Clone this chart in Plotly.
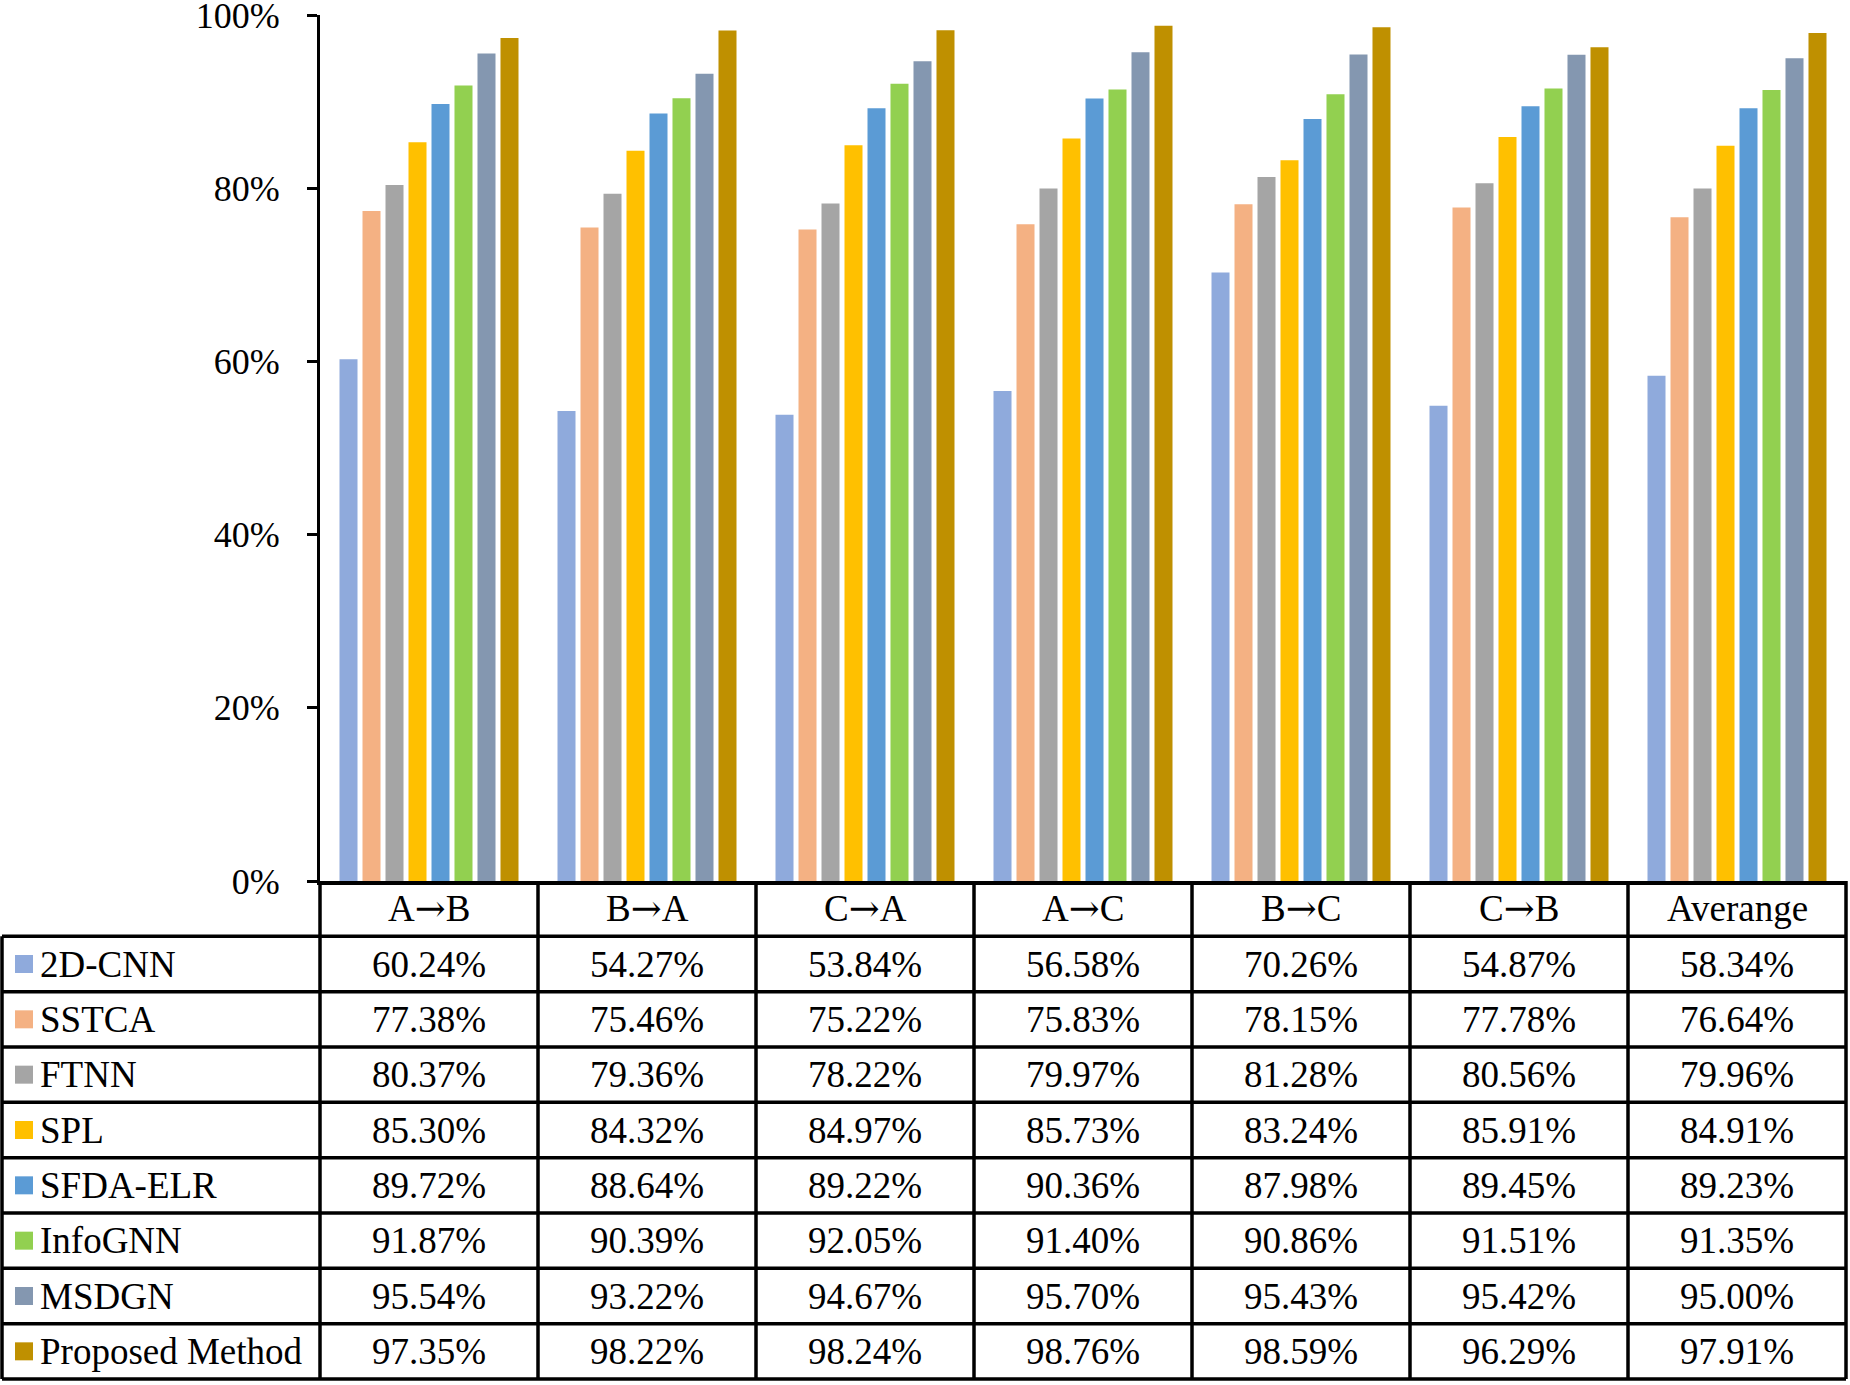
import plotly.graph_objects as go

# datos
categories = ["A→B", "B→A", "C→A", "A→C", "B→C", "C→B", "Averange"]
methods = ["2D-CNN", "SSTCA", "FTNN", "SPL", "SFDA-ELR", "InfoGNN", "MSDGN", "Proposed Method"]

cnn_2d = [60.24, 54.27, 53.84, 56.58, 70.26, 54.87, 58.34]
sstca = [77.38, 75.46, 75.22, 75.83, 78.15, 77.78, 76.64]
ftnn = [80.37, 79.36, 78.22, 79.97, 81.28, 80.56, 79.96]
spl = [85.30, 84.32, 84.97, 85.73, 83.24, 85.91, 84.91]
sfda_elr = [89.72, 88.64, 89.22, 90.36, 87.98, 89.45, 89.23]
infognn = [91.87, 90.39, 92.05, 91.40, 90.86, 91.51, 91.35]
msdgn = [95.54, 93.22, 94.67, 95.70, 95.43, 95.42, 95.00]
proposed = [97.35, 98.22, 98.24, 98.76, 98.59, 96.29, 97.91]

series = [cnn_2d, sstca, ftnn, spl, sfda_elr, infognn, msdgn, proposed]
colors = ["#8FAADC", "#F4B183", "#A5A5A5", "#FFC000",
          "#5B9BD5", "#92D050", "#8497B0", "#BF9000"]

y_ticks = [0, 20, 40, 60, 80, 100]

# geometria en pixeles
W, H = 1850, 1385
PLOT_L, PLOT_R = 320, 1846
PLOT_T, PLOT_B = 15, 881
TABLE_L = 2
ROW_H = (1379 - PLOT_B) / 9
FONT = "Liberation Serif, Times New Roman, serif"
LINE_W = 3.5


def px(x):
    return x / W


def py(y):
    return 1 - y / H


def header_text(cat):
    # la flecha de Liberation Serif sale muy corta, usamos otra fuente solo para ella
    return cat.replace("→", "<span style='font-family:DejaVu Serif'>→</span>")


fig = go.Figure()
for name, vals, col in zip(methods, series, colors):
    fig.add_trace(go.Bar(x=categories, y=vals, name=name,
                         marker=dict(color=col, line=dict(width=0))))

shapes = []
annotations = []
n_rows = len(methods) + 1

# lineas horizontales de la tabla
for k in range(1, n_rows + 1):
    y = PLOT_B + k * ROW_H
    shapes.append(dict(type="line", xref="paper", yref="paper",
                       x0=px(TABLE_L), x1=px(PLOT_R), y0=py(y), y1=py(y),
                       line=dict(color="black", width=LINE_W)))

# lineas verticales de la tabla
n_cat = len(categories)
for k in range(n_cat + 1):
    x = PLOT_L + k * (PLOT_R - PLOT_L) / n_cat
    shapes.append(dict(type="line", xref="paper", yref="paper",
                       x0=px(x), x1=px(x), y0=py(PLOT_B), y1=py(PLOT_B + n_rows * ROW_H),
                       line=dict(color="black", width=LINE_W)))
shapes.append(dict(type="line", xref="paper", yref="paper",
                   x0=px(TABLE_L), x1=px(TABLE_L),
                   y0=py(PLOT_B + ROW_H), y1=py(PLOT_B + n_rows * ROW_H),
                   line=dict(color="black", width=LINE_W)))

# encabezado
for cat in categories:
    annotations.append(dict(x=cat, xref="x", yref="paper", y=py(PLOT_B + ROW_H / 2),
                            text=header_text(cat), showarrow=False,
                            xanchor="center", yanchor="middle",
                            font=dict(size=37, color="black", family=FONT)))

# filas con valores
for r, (name, vals, col) in enumerate(zip(methods, series, colors)):
    yc = PLOT_B + (r + 1.5) * ROW_H
    shapes.append(dict(type="rect", xref="paper", yref="paper",
                       x0=px(15), x1=px(33), y0=py(yc - 9), y1=py(yc + 9),
                       fillcolor=col, line=dict(width=0)))
    annotations.append(dict(x=px(38), xref="paper", yref="paper", y=py(yc),
                            text=name, showarrow=False, xanchor="left", yanchor="middle",
                            font=dict(size=37, color="black", family=FONT)))
    for cat, v in zip(categories, vals):
        annotations.append(dict(x=cat, xref="x", yref="paper", y=py(yc),
                                text="%.2f%%" % v, showarrow=False,
                                xanchor="center", yanchor="middle",
                                font=dict(size=37, color="black", family=FONT)))

fig.update_layout(
    width=W, height=H,
    margin=dict(l=0, r=0, t=0, b=0, autoexpand=False),
    paper_bgcolor="white", plot_bgcolor="white",
    barmode="group", bargap=0.156, bargroupgap=0.217,
    showlegend=False,
    font=dict(family=FONT, color="black"),
    shapes=shapes, annotations=annotations,
    xaxis=dict(domain=[px(PLOT_L), px(PLOT_R)], showticklabels=False, ticks="",
               showgrid=False, zeroline=False, showline=True, automargin=False,
               linecolor="black", linewidth=LINE_W),
    yaxis=dict(domain=[py(PLOT_B), py(PLOT_T)], range=[0, 100],
               tickvals=y_ticks, ticktext=["%d%%" % t for t in y_ticks],
               ticks="outside", ticklen=10, tickwidth=3, tickcolor="black",
               ticklabelstandoff=20, ticklabeloverflow="allow", automargin=False,
               tickfont=dict(size=36, color="black", family=FONT),
               showgrid=False, zeroline=False, showline=True,
               linecolor="black", linewidth=3),
)

# sin el margen del body la figura ocupa exactamente la ventana
fig.write_html("out.html", config={"displayModeBar": False},
               post_script="document.body.style.margin = '0';")
